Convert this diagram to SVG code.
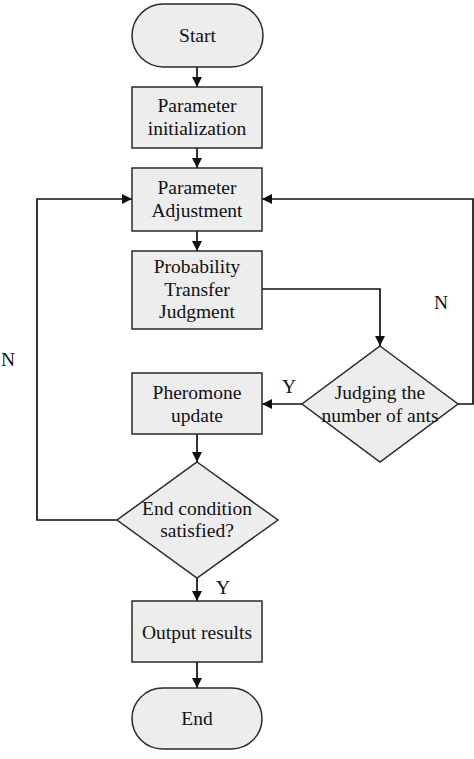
<svg xmlns="http://www.w3.org/2000/svg" width="474" height="759" viewBox="0 0 474 759">
<style>
.shape{fill:#ededed;stroke:#2a2a2a;stroke-width:1.5}
.lbl{font-family:"Liberation Serif","Times New Roman",serif;font-size:19.5px;fill:#111;text-anchor:middle}
.line{fill:none;stroke:#111;stroke-width:1.7}
</style>
<defs>
<marker id="arr" viewBox="0 0 10 10" refX="10" refY="5" markerWidth="11" markerHeight="10" markerUnits="userSpaceOnUse" orient="auto">
<path d="M0,0 L10,5 L0,10 Z" fill="#111"/>
</marker>
</defs>
<rect width="474" height="759" fill="#fff"/>
<g id="connectors">
<path class="line" marker-end="url(#arr)" d="M197,67 V87"/>
<path class="line" marker-end="url(#arr)" d="M197,148 V168"/>
<path class="line" marker-end="url(#arr)" d="M197,231 V251"/>
<path class="line" marker-end="url(#arr)" d="M262,289 H380 V346"/>
<path class="line" marker-end="url(#arr)" d="M302,404 H262"/>
<path class="line" marker-end="url(#arr)" d="M197,434 V462"/>
<path class="line" marker-end="url(#arr)" d="M197,578 V601"/>
<path class="line" marker-end="url(#arr)" d="M197,662 V688"/>
<path class="line" marker-end="url(#arr)" d="M458,404 H473 V199 H262"/>
<path class="line" marker-end="url(#arr)" d="M117,520 H37 V199 H132"/>
<text class="lbl" x="441" y="309">N</text>
<text class="lbl" x="8" y="366">N</text>
<text class="lbl" x="289" y="393">Y</text>
<text class="lbl" x="223" y="594">Y</text>
</g>
<g id="start">
<rect class="shape" x="132" y="4" width="131" height="63" rx="31.5"/>
<text class="lbl" x="197.5" y="42">Start</text>
</g>
<g id="init">
<rect class="shape" x="132" y="87" width="130" height="61"/>
<text class="lbl" x="197" y="112">Parameter</text>
<text class="lbl" x="197" y="135">initialization</text>
</g>
<g id="adjust">
<rect class="shape" x="132" y="168" width="130" height="63"/>
<text class="lbl" x="197" y="194">Parameter</text>
<text class="lbl" x="197" y="217">Adjustment</text>
</g>
<g id="prob">
<rect class="shape" x="132" y="251" width="130" height="78"/>
<text class="lbl" x="197" y="273">Probability</text>
<text class="lbl" x="197" y="296">Transfer</text>
<text class="lbl" x="197" y="318">Judgment</text>
</g>
<g id="judge">
<polygon class="shape" points="380,346 458,404 380,462 302,404"/>
<text class="lbl" x="380" y="399">Judging the</text>
<text class="lbl" x="380" y="422">number of ants</text>
</g>
<g id="pher">
<rect class="shape" x="132" y="373" width="130" height="61"/>
<text class="lbl" x="197" y="399">Pheromone</text>
<text class="lbl" x="197" y="422">update</text>
</g>
<g id="endcond">
<polygon class="shape" points="197,462 278,520 197,578 117,520"/>
<text class="lbl" x="197" y="515">End condition</text>
<text class="lbl" x="197" y="537">satisfied?</text>
</g>
<g id="output">
<rect class="shape" x="132" y="601" width="130" height="61"/>
<text class="lbl" x="197" y="639">Output results</text>
</g>
<g id="end">
<rect class="shape" x="132" y="688" width="130" height="61" rx="30.5"/>
<text class="lbl" x="197" y="725">End</text>
</g>
</svg>
